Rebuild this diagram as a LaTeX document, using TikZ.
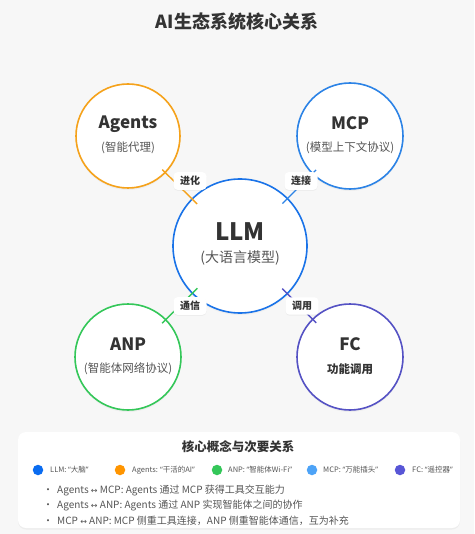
\documentclass[tikz,border=0pt]{standalone}
\usepackage{fontspec}
\setmainfont{Noto Sans CJK SC}
\newfontfamily\dvs{DejaVu Sans}
\newfontfamily\nsans{Noto Sans}
\newcommand{\myoq}{{\nsans “}}
\newcommand{\mycq}{{\nsans ”}}
\usetikzlibrary{calc,shadows}
\definecolor{bgc}{HTML}{F7F7F7}
\definecolor{txt}{HTML}{333333}
\definecolor{subt}{HTML}{555555}
\definecolor{cLLM}{HTML}{1A73E8}
\definecolor{cMCP}{HTML}{2C83E6}
\definecolor{cAg}{HTML}{F5A21B}
\definecolor{cANP}{HTML}{34C759}
\definecolor{cFC}{HTML}{5552C4}
\definecolor{dLLM}{HTML}{0A6CF0}
\definecolor{dAg}{HTML}{FF9500}
\definecolor{dANP}{HTML}{34C759}
\definecolor{dMCP}{HTML}{4DA3F7}
\definecolor{dFC}{HTML}{5856D6}
\begin{document}
\begin{tikzpicture}[x=1pt,y=-1pt,
  circ/.style={circle,draw,line width=1.6pt,fill=white,inner sep=0pt,minimum size=#1,
    drop shadow={opacity=0.07,shadow xshift=0pt,shadow yshift=-2pt}},
  big/.style={font=\bfseries\fontsize{17}{20}\selectfont,text=txt},
  sub/.style={font=\fontsize{11.5}{14}\selectfont,text=subt},
  conn/.style={line width=1.4pt},
  lab/.style={fill=white,rounded corners=4pt,inner xsep=6.5pt,inner ysep=4pt,
    font=\bfseries\fontsize{10}{11}\selectfont,text=txt,
    drop shadow={opacity=0.08,shadow xshift=0pt,shadow yshift=-1pt}},
  dot/.style={circle,inner sep=0pt,minimum size=10.5pt},
  leg/.style={anchor=west,font=\fontsize{7.5}{9}\selectfont,text=subt,inner sep=0pt},
  bul/.style={anchor=west,font=\fontsize{10}{12}\selectfont,text=subt,inner sep=0pt}]
\fill[bgc] (0,0) rectangle (474,534);
\useasboundingbox (0,0) rectangle (474,534);
\node[font=\bfseries\fontsize{18}{21}\selectfont,text=txt] (title) at (237,22) {AI生态系统核心关系};

% circles
\node[circ=104pt,draw=cAg] (A) at (128,136) {};
\node[circ=106pt,draw=cMCP] (M) at (350,136) {};
\node[circ=106pt,draw=cANP] (N) at (128,357) {};
\node[circ=106pt,draw=cFC] (F) at (350,357) {};
\node[circ=134pt,draw=cLLM] (L) at (240,246) {};

% connectors
\draw[conn,cAg] ($(A.center)!48pt!(L.center)$) -- ($(L.center)!60pt!(A.center)$);
\draw[conn,cMCP] ($(M.center)!48pt!(L.center)$) -- ($(L.center)!60pt!(M.center)$);
\draw[conn,cANP] ($(N.center)!48pt!(L.center)$) -- ($(L.center)!60pt!(N.center)$);
\draw[conn,cFC] ($(F.center)!48pt!(L.center)$) -- ($(L.center)!60pt!(F.center)$);

% texts
\node[big] (At) at (128,124) {Agents};
\node[sub] (As) at (128,148) {(智能代理)};
\node[big] (Mt) at (350,123) {MCP};
\node[sub] (Ms) at (350,148) {(模型上下文协议)};
\node[big,font=\bfseries\fontsize{24}{28}\selectfont] (Lt) at (240,232) {LLM};
\node[sub,font=\fontsize{14}{17}\selectfont] (Ls) at (240,258) {(大语言模型)};
\node[big] (Nt) at (128,344) {ANP};
\node[sub] (Ns) at (128,369) {(智能体网络协议)};
\node[big] (Ft) at (350,344) {FC};
\node[sub,font=\bfseries\fontsize{11.5}{14}\selectfont,text=txt] (Fs) at (350,369) {功能调用};

% labels
\node[lab] (l1) at (190,181) {进化};
\node[lab] (l2) at (301,181) {连接};
\node[lab] (l3) at (190,306) {通信};
\node[lab] (l4) at (302,306) {调用};

% bottom panel
\fill[white,rounded corners=8pt,drop shadow={opacity=0.08,shadow xshift=0pt,shadow yshift=-1.5pt}] (18,432) rectangle (460,528);
\node[font=\bfseries\fontsize{12.5}{15}\selectfont,text=txt] (pt) at (238,447) {核心概念与次要关系};

\node[dot,fill=dLLM] (d1) at (38,470) {};
\node[leg] (t1) at (50,470) {LLM: \myoq 大脑\mycq};
\node[dot,fill=dAg] (d2) at (120,470) {};
\node[leg] (t2) at (132,470) {Agents: \myoq 干活的AI\mycq};
\node[dot,fill=dANP] (d3) at (217,470) {};
\node[leg] (t3) at (228,470) {ANP: \myoq 智能体Wi-Fi\mycq};
\node[dot,fill=dMCP] (d4) at (312,470) {};
\node[leg] (t4) at (323,470) {MCP: \myoq 万能插头\mycq};
\node[dot,fill=dFC] (d5) at (400,470) {};
\node[leg] (t5) at (412,470) {FC: \myoq 遥控器\mycq};

\node[bul] (b1) at (43,490) {·\hspace{4pt}Agents {\dvs\fontsize{8}{10}\selectfont↔} MCP: Agents 通过 MCP 获得工具交互能力};
\node[bul] (b2) at (43,506) {·\hspace{4pt}Agents {\dvs\fontsize{8}{10}\selectfont↔} ANP: Agents 通过 ANP 实现智能体之间的协作};
\node[bul] (b3) at (43,521) {·\hspace{4pt}MCP {\dvs\fontsize{8}{10}\selectfont↔} ANP: MCP 侧重工具连接，ANP 侧重智能体通信，互为补充};
\end{tikzpicture}
\end{document}
